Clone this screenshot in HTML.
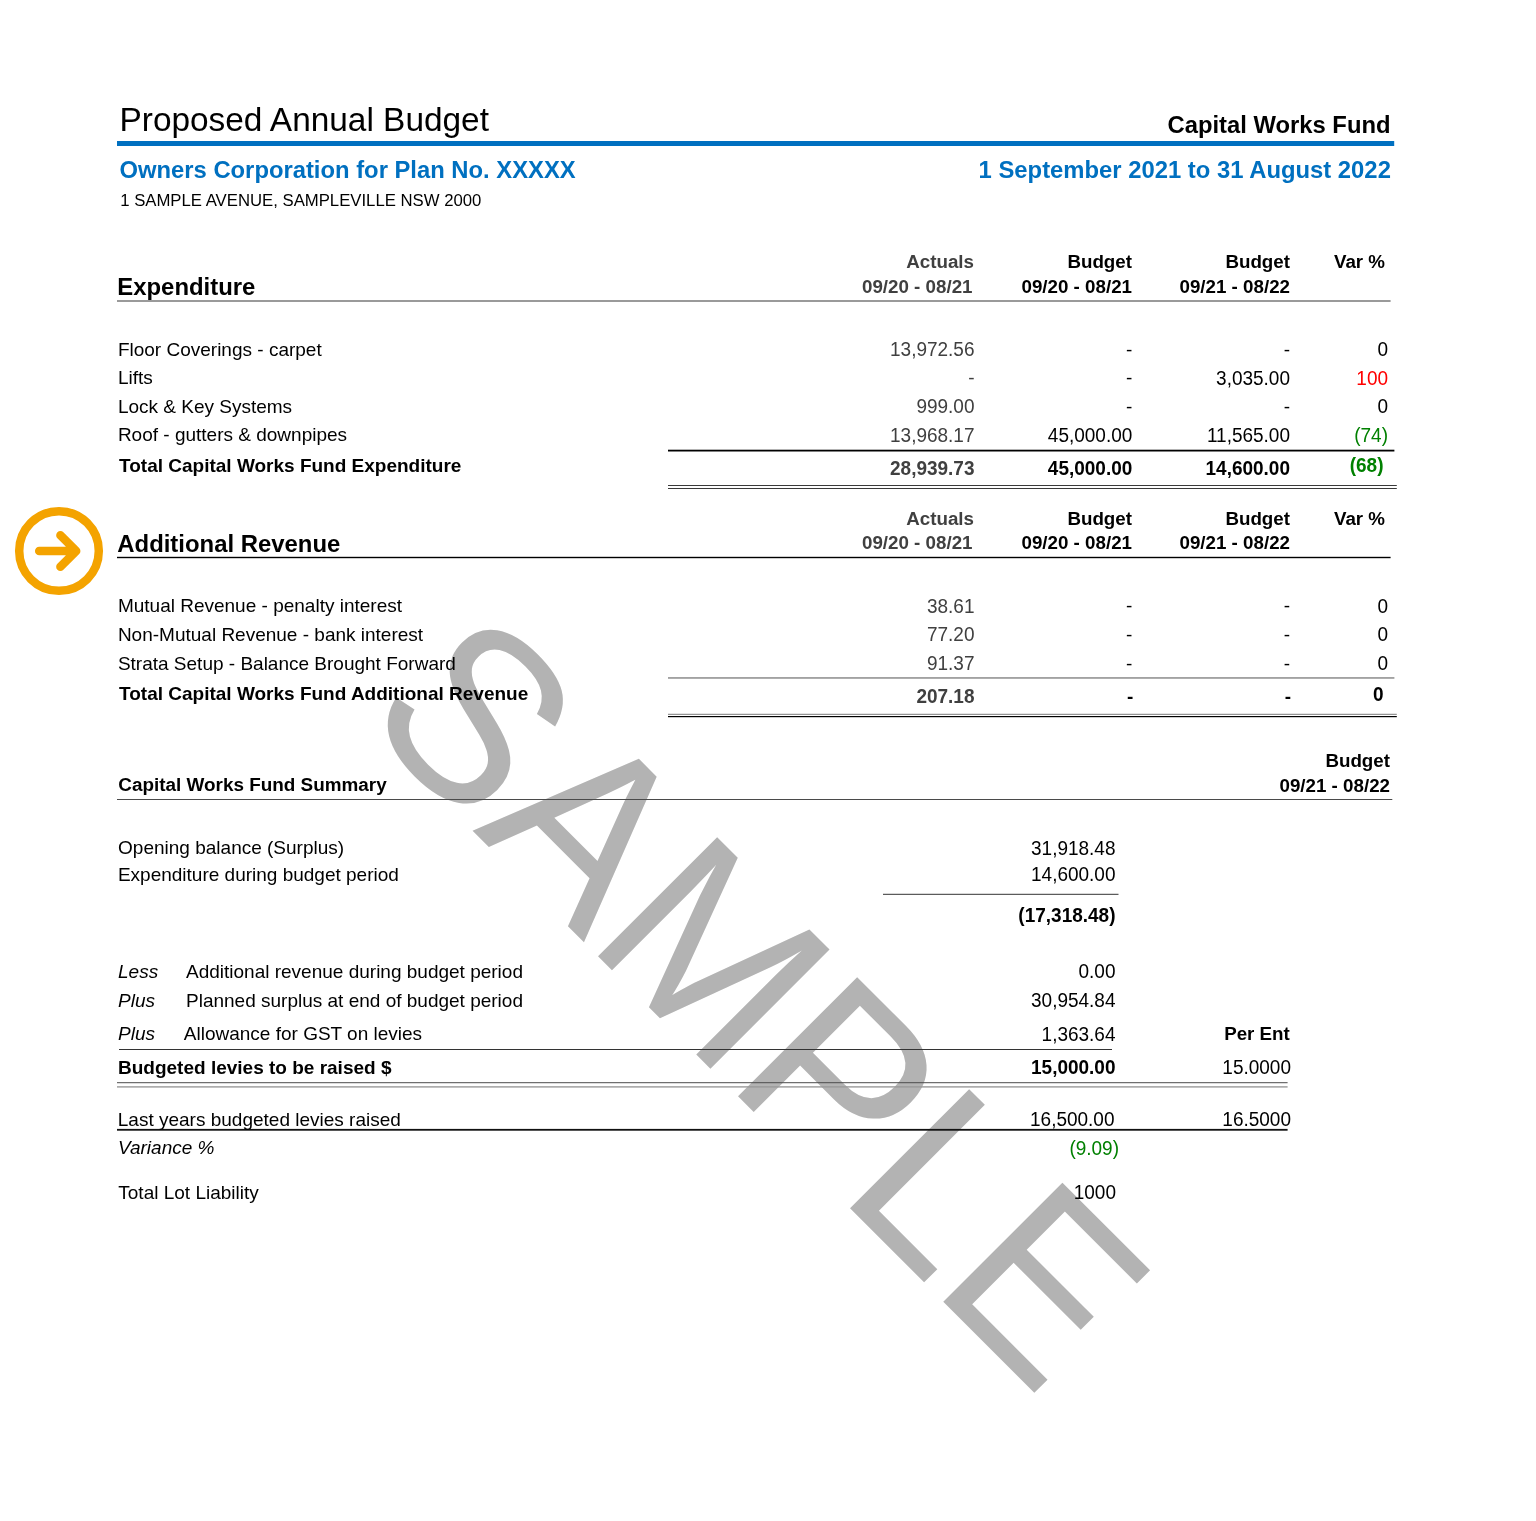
<!DOCTYPE html>
<html><head><meta charset="utf-8"><title>Proposed Annual Budget</title>
<style>
html,body{margin:0;padding:0;background:#fff;}
body{width:1536px;height:1521px;overflow:hidden;}
svg{display:block;}
text{font-family:"Liberation Sans",Arial,sans-serif;}
</style></head><body>
<svg width="1536" height="1521" viewBox="0 0 1536 1521">
<rect x="0" y="0" width="1536" height="1521" fill="#ffffff"/>
<g transform="translate(360.1 718.5) rotate(45) scale(1.011 1.042)"><text x="0" y="0" font-size="235" fill="#b3b3b3">SAMPLE</text></g>
<g fill="none" stroke="#f4a300" stroke-width="8.5" stroke-linecap="round" stroke-linejoin="round"><circle cx="59" cy="551" r="39.8"/><path d="M39.2 551H76.2M60.4 535.2L76.2 551L60.4 566.8"/></g>
<rect x="117" y="141" width="1277.2" height="5" fill="#0070c0"/>
<rect x="117" y="300" width="1273.6" height="2" fill="#9a9a9a"/>
<rect x="668" y="449.7" width="726.4" height="1.8" fill="#000000"/>
<rect x="668" y="485" width="728.8" height="1" fill="#3a3a3a"/>
<rect x="668" y="488" width="728.8" height="1" fill="#3a3a3a"/>
<rect x="117" y="556.8" width="1273.6" height="1.4" fill="#000000"/>
<rect x="668" y="677.2" width="726.4" height="1.5" fill="#8c8c8c"/>
<rect x="668" y="713.8" width="728.8" height="1" fill="#7a7a7a"/>
<rect x="668" y="716" width="728.8" height="1.2" fill="#000000"/>
<rect x="117" y="799" width="1275.3" height="1" fill="#4a4a4a"/>
<rect x="883" y="893.8" width="235.5" height="1" fill="#333333"/>
<rect x="119" y="1049" width="993" height="1" fill="#333333"/>
<rect x="117" y="1082.2" width="1170.6" height="1" fill="#4d4d4d"/>
<rect x="117" y="1086.2" width="1170.6" height="1.4" fill="#9a9a9a"/>
<rect x="117" y="1128.9" width="1170.6" height="1.8" fill="#111111"/>
<text x="119.5" y="131.0" font-size="33.4">Proposed Annual Budget</text>
<text x="1390.5" y="133.1" font-size="23.8" text-anchor="end" font-weight="700">Capital Works Fund</text>
<text x="119.5" y="178.0" font-size="23.8" font-weight="700" fill="#0070c0">Owners Corporation for Plan No. XXXXX</text>
<text x="1390.9" y="178.2" font-size="23.83" text-anchor="end" font-weight="700" fill="#0070c0">1 September 2021 to 31 August 2022</text>
<text x="120.2" y="205.7" font-size="16.73">1 SAMPLE AVENUE, SAMPLEVILLE NSW 2000</text>
<text x="117.3" y="295.1" font-size="23.9" font-weight="700">Expenditure</text>
<text x="974" y="268.0" font-size="18.75" text-anchor="end" font-weight="700" fill="#404040">Actuals</text>
<text x="972.5" y="292.5" font-size="18.75" text-anchor="end" font-weight="700" fill="#404040">09/20 - 08/21</text>
<text x="1132" y="268.0" font-size="18.75" text-anchor="end" font-weight="700">Budget</text>
<text x="1132" y="292.5" font-size="18.75" text-anchor="end" font-weight="700">09/20 - 08/21</text>
<text x="1290" y="268.0" font-size="18.75" text-anchor="end" font-weight="700">Budget</text>
<text x="1290" y="292.5" font-size="18.75" text-anchor="end" font-weight="700">09/21 - 08/22</text>
<text x="1385" y="268.0" font-size="18.75" text-anchor="end" font-weight="700">Var %</text>
<text x="117.9" y="356.0" font-size="19">Floor Coverings - carpet</text>
<text transform="translate(974.5 356.3) scale(1 1.045)" font-size="19" text-anchor="end" fill="#404040">13,972.56</text>
<text x="1132.3" y="356.0" font-size="19" text-anchor="end">-</text>
<text x="1290" y="356.0" font-size="19" text-anchor="end">-</text>
<text transform="translate(1388 356.3) scale(1 1.045)" font-size="19" text-anchor="end">0</text>
<text x="117.9" y="384.3" font-size="19">Lifts</text>
<text x="974.5" y="384.3" font-size="19" text-anchor="end" fill="#404040">-</text>
<text x="1132.3" y="384.3" font-size="19" text-anchor="end">-</text>
<text transform="translate(1290 384.6) scale(1 1.045)" font-size="19" text-anchor="end">3,035.00</text>
<text transform="translate(1388 384.6) scale(1 1.045)" font-size="19" text-anchor="end" fill="#ff0000">100</text>
<text x="117.9" y="412.7" font-size="19">Lock &amp; Key Systems</text>
<text transform="translate(974.5 413.0) scale(1 1.045)" font-size="19" text-anchor="end" fill="#404040">999.00</text>
<text x="1132.3" y="412.7" font-size="19" text-anchor="end">-</text>
<text x="1290" y="412.7" font-size="19" text-anchor="end">-</text>
<text transform="translate(1388 413.0) scale(1 1.045)" font-size="19" text-anchor="end">0</text>
<text x="117.9" y="441.2" font-size="19">Roof - gutters &amp; downpipes</text>
<text transform="translate(974.5 441.5) scale(1 1.045)" font-size="19" text-anchor="end" fill="#404040">13,968.17</text>
<text transform="translate(1132.3 441.5) scale(1 1.045)" font-size="19" text-anchor="end">45,000.00</text>
<text transform="translate(1290 441.5) scale(1 1.045)" font-size="19" text-anchor="end">11,565.00</text>
<text transform="translate(1388 441.5) scale(1 1.045)" font-size="19" text-anchor="end" fill="#008000">(74)</text>
<text x="119" y="472.3" font-size="19" font-weight="700">Total Capital Works Fund Expenditure</text>
<text transform="translate(974.5 475.0) scale(1 1.045)" font-size="19" text-anchor="end" font-weight="700" fill="#404040">28,939.73</text>
<text transform="translate(1132.3 475.0) scale(1 1.045)" font-size="19" text-anchor="end" font-weight="700">45,000.00</text>
<text transform="translate(1290 475.0) scale(1 1.045)" font-size="19" text-anchor="end" font-weight="700">14,600.00</text>
<text transform="translate(1383.5 472.1) scale(1 1.045)" font-size="19" text-anchor="end" font-weight="700" fill="#008000">(68)</text>
<text x="117.3" y="551.6" font-size="23.9" font-weight="700">Additional Revenue</text>
<text x="974" y="524.5" font-size="18.75" text-anchor="end" font-weight="700" fill="#404040">Actuals</text>
<text x="972.5" y="549.0" font-size="18.75" text-anchor="end" font-weight="700" fill="#404040">09/20 - 08/21</text>
<text x="1132" y="524.5" font-size="18.75" text-anchor="end" font-weight="700">Budget</text>
<text x="1132" y="549.0" font-size="18.75" text-anchor="end" font-weight="700">09/20 - 08/21</text>
<text x="1290" y="524.5" font-size="18.75" text-anchor="end" font-weight="700">Budget</text>
<text x="1290" y="549.0" font-size="18.75" text-anchor="end" font-weight="700">09/21 - 08/22</text>
<text x="1385" y="524.5" font-size="18.75" text-anchor="end" font-weight="700">Var %</text>
<text x="117.9" y="612.4" font-size="19">Mutual Revenue - penalty interest</text>
<text transform="translate(974.5 612.7) scale(1 1.045)" font-size="19" text-anchor="end" fill="#404040">38.61</text>
<text x="1132.3" y="612.4" font-size="19" text-anchor="end">-</text>
<text x="1290" y="612.4" font-size="19" text-anchor="end">-</text>
<text transform="translate(1388 612.7) scale(1 1.045)" font-size="19" text-anchor="end">0</text>
<text x="117.9" y="640.7" font-size="19">Non-Mutual Revenue - bank interest</text>
<text transform="translate(974.5 641.0) scale(1 1.045)" font-size="19" text-anchor="end" fill="#404040">77.20</text>
<text x="1132.3" y="640.7" font-size="19" text-anchor="end">-</text>
<text x="1290" y="640.7" font-size="19" text-anchor="end">-</text>
<text transform="translate(1388 641.0) scale(1 1.045)" font-size="19" text-anchor="end">0</text>
<text x="117.9" y="669.6" font-size="19">Strata Setup - Balance Brought Forward</text>
<text transform="translate(974.5 669.9) scale(1 1.045)" font-size="19" text-anchor="end" fill="#404040">91.37</text>
<text x="1132.3" y="669.6" font-size="19" text-anchor="end">-</text>
<text x="1290" y="669.6" font-size="19" text-anchor="end">-</text>
<text transform="translate(1388 669.9) scale(1 1.045)" font-size="19" text-anchor="end">0</text>
<text x="119" y="700.0" font-size="19" font-weight="700">Total Capital Works Fund Additional Revenue</text>
<text transform="translate(974.5 702.6) scale(1 1.045)" font-size="19" text-anchor="end" font-weight="700" fill="#404040">207.18</text>
<text x="1133.3" y="703.0" font-size="19" text-anchor="end" font-weight="700">-</text>
<text x="1291" y="703.0" font-size="19" text-anchor="end" font-weight="700">-</text>
<text transform="translate(1383.5 700.8) scale(1 1.045)" font-size="19" text-anchor="end" font-weight="700">0</text>
<text x="118.3" y="790.9" font-size="18.9" font-weight="700">Capital Works Fund Summary</text>
<text x="1390" y="766.6" font-size="18.75" text-anchor="end" font-weight="700">Budget</text>
<text x="1390" y="791.8" font-size="18.75" text-anchor="end" font-weight="700">09/21 - 08/22</text>
<text x="118.1" y="854.0" font-size="19">Opening balance (Surplus)</text>
<text transform="translate(1115.5 854.5) scale(1 1.045)" font-size="19" text-anchor="end">31,918.48</text>
<text x="117.9" y="881.3" font-size="19">Expenditure during budget period</text>
<text transform="translate(1115.5 881.1) scale(1 1.045)" font-size="19" text-anchor="end">14,600.00</text>
<text transform="translate(1115.5 921.7) scale(1 1.045)" font-size="19" text-anchor="end" font-weight="700">(17,318.48)</text>
<text x="118" y="978.0" font-size="19" font-style="italic">Less</text>
<text x="186" y="978.0" font-size="19">Additional revenue during budget period</text>
<text transform="translate(1115.5 978.3) scale(1 1.045)" font-size="19" text-anchor="end">0.00</text>
<text x="118" y="1006.8" font-size="19" font-style="italic">Plus</text>
<text x="186" y="1006.8" font-size="19">Planned surplus at end of budget period</text>
<text transform="translate(1115.5 1007.1) scale(1 1.045)" font-size="19" text-anchor="end">30,954.84</text>
<text x="118" y="1039.8" font-size="19" font-style="italic">Plus</text>
<text x="183.8" y="1039.8" font-size="19">Allowance for GST on levies</text>
<text transform="translate(1115.5 1040.5) scale(1 1.045)" font-size="19" text-anchor="end">1,363.64</text>
<text x="1289.8" y="1040.4" font-size="18.75" text-anchor="end" font-weight="700">Per Ent</text>
<text x="118" y="1073.7" font-size="19" font-weight="700">Budgeted levies to be raised $</text>
<text transform="translate(1115.5 1073.8) scale(1 1.045)" font-size="19" text-anchor="end" font-weight="700">15,000.00</text>
<text transform="translate(1291 1073.8) scale(1 1.045)" font-size="19" text-anchor="end">15.0000</text>
<text x="117.8" y="1125.8" font-size="19">Last years budgeted levies raised</text>
<text transform="translate(1114.5 1125.8) scale(1 1.045)" font-size="19" text-anchor="end">16,500.00</text>
<text transform="translate(1291 1125.8) scale(1 1.045)" font-size="19" text-anchor="end">16.5000</text>
<text x="118" y="1154.1" font-size="19" font-style="italic">Variance %</text>
<text transform="translate(1119 1154.5) scale(1 1.045)" font-size="19" text-anchor="end" fill="#008000">(9.09)</text>
<text x="118.3" y="1198.9" font-size="19">Total Lot Liability</text>
<text transform="translate(1116 1199.0) scale(1 1.045)" font-size="19" text-anchor="end">1000</text>
</svg>
</body></html>
